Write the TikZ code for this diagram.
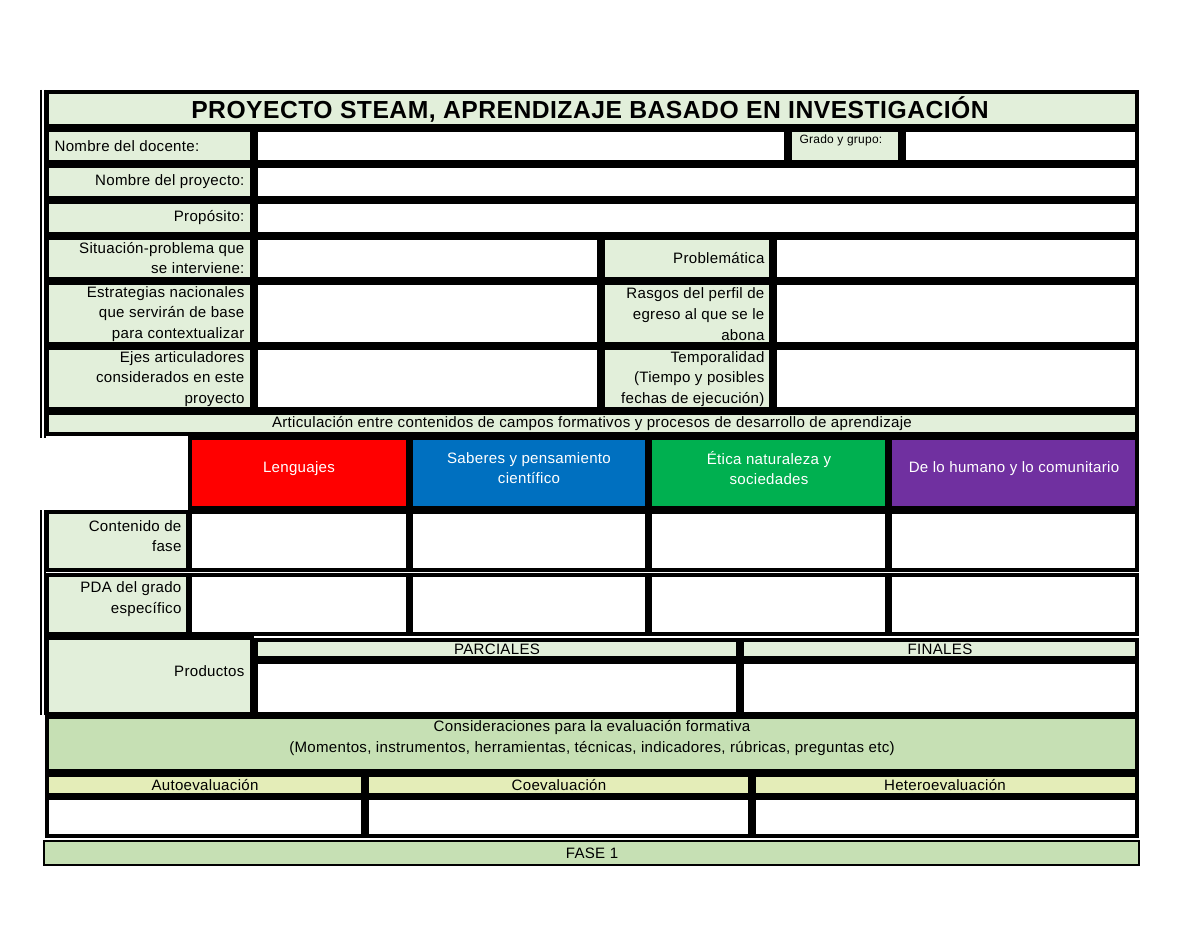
\documentclass[tikz,border=0pt]{standalone}
\usepackage{fontspec}
\setmainfont{Liberation Sans}[LetterSpace=2]
\definecolor{lg}{HTML}{E2EFDA}
\definecolor{mg}{HTML}{C6E0B4}
\definecolor{yg}{HTML}{E4EDB8}
\definecolor{cblue}{HTML}{0070C0}
\definecolor{cgreen}{HTML}{00B050}
\definecolor{cpurp}{HTML}{7030A0}
\tikzset{x=0.75pt,y=-0.75pt,
 cell/.style={draw=black,line width=2.8pt},
 lab/.style={font=\fontsize{11.3}{15.5}\selectfont,align=right,inner sep=1pt},
 ctr/.style={font=\fontsize{11.3}{15.5}\selectfont,align=center,inner sep=1pt},
 wt/.style={font=\fontsize{11.3}{15.5}\selectfont,align=center,text=white}}
\begin{document}
\begin{tikzpicture}
\useasboundingbox (0,0) rectangle (1200,927);
% left double lines
\draw[line width=1pt] (41,90) -- (41,438) (45,90) -- (45,438);
\draw[line width=1pt] (41,510) -- (41,715) (45,510) -- (45,715);
% title
\draw[cell,fill=lg] (47,92) rectangle (1137,126);
\node (title) at (590,109) {\fontsize{18.5}{20}\selectfont\bfseries PROYECTO STEAM, APRENDIZAJE BASADO EN INVESTIGACIÓN};
% row 2
\draw[cell,fill=lg] (47,130) rectangle (252,162);
\node[lab,anchor=west] (nd) at (53,146) {Nombre del docente:};
\draw[cell,fill=white] (256,130) rectangle (786,162);
\draw[cell,fill=lg] (790,130) rectangle (900,162);
\node[anchor=north west,font=\fontsize{9}{10}\selectfont,inner sep=1pt] (gg) at (798,133) {Grado y grupo:};
\draw[cell,fill=white] (904,130) rectangle (1137,162);
% row 3,4
\draw[cell,fill=lg] (47,166) rectangle (252,198);
\node[lab,anchor=east] (np) at (246,182) {Nombre del proyecto:};
\draw[cell,fill=white] (256,166) rectangle (1137,198);
\draw[cell,fill=lg] (47,202) rectangle (252,234);
\node[lab,anchor=east] (pr) at (246,218) {Propósito:};
\draw[cell,fill=white] (256,202) rectangle (1137,234);
% row 5
\draw[cell,fill=lg] (47,238) rectangle (252,279);
\node[lab,anchor=east] (sp) at (246,258) {Situación-problema que\\se interviene:};
\draw[cell,fill=white] (256,238) rectangle (599,279);
\draw[cell,fill=lg] (603,238) rectangle (771,279);
\node[lab,anchor=east] (pb) at (766,258) {Problemática};
\draw[cell,fill=white] (775,238) rectangle (1137,279);
% row 6
\draw[cell,fill=lg] (47,283) rectangle (252,344);
\node[lab,anchor=east] (en) at (246,314) {Estrategias nacionales\\que servirán de base\\para contextualizar};
\draw[cell,fill=white] (256,283) rectangle (599,344);
\draw[cell,fill=lg] (603,283) rectangle (771,344);
\node[lab,anchor=east] (rp) at (766,314) {Rasgos del perfil de\\egreso al que se le\\abona};
\draw[cell,fill=white] (775,283) rectangle (1137,344);
% row 7
\draw[cell,fill=lg] (47,348) rectangle (252,409);
\node[lab,anchor=east] (ea) at (246,379) {Ejes articuladores\\considerados en este\\proyecto};
\draw[cell,fill=white] (256,348) rectangle (599,409);
\draw[cell,fill=lg] (603,348) rectangle (771,409);
\node[lab,anchor=east] (tp) at (766,379) {Temporalidad\\(Tiempo y posibles\\fechas de ejecución)};
\draw[cell,fill=white] (775,348) rectangle (1137,409);
% row 8
\draw[cell,fill=lg] (47,413) rectangle (1137,434);
\node[ctr] (art) at (592,424) {Articulación entre contenidos de campos formativos y procesos de desarrollo de aprendizaje};
% colored
\draw[cell,fill=red] (190,438) rectangle (408,508);
\node[wt] (c1) at (299,469) {Lenguajes};
\draw[cell,fill=cblue] (411,438) rectangle (647,508);
\node[wt] (c2) at (529,468) {Saberes y pensamiento\\científico};
\draw[cell,fill=cgreen] (650,438) rectangle (887,508);
\node[wt] (c3) at (769,468) {Ética naturaleza y\\sociedades};
\draw[cell,fill=cpurp] (890,438) rectangle (1137,508);
\node[wt] (c4) at (1014,469) {De lo humano y lo comunitario};
% row 10, 11
\draw[cell,fill=lg] (47,512) rectangle (188,570);
\node[lab,anchor=east] (cf) at (183,536) {Contenido de\\fase};
\draw[cell,fill=lg] (47,575) rectangle (188,634);
\node[lab,anchor=east] (pda) at (183,599) {PDA del grado\\específico};
\foreach \ya/\yb in {512/570,575/634}{
 \draw[cell,fill=white] (190,\ya) rectangle (408,\yb);
 \draw[cell,fill=white] (411,\ya) rectangle (647,\yb);
 \draw[cell,fill=white] (650,\ya) rectangle (887,\yb);
 \draw[cell,fill=white] (890,\ya) rectangle (1137,\yb);}
% productos
\draw[cell,fill=lg] (47,638) rectangle (252,714);
\node[lab,anchor=east] (prod) at (246,671) {Productos};
\draw[cell,fill=lg] (256,640) rectangle (738,658);
\node[ctr] (parc) at (497,649) {PARCIALES};
\draw[cell,fill=lg] (742,640) rectangle (1137,658);
\node[ctr] (fin) at (940,649) {FINALES};
\draw[cell,fill=white] (256,662) rectangle (738,714);
\draw[cell,fill=white] (742,662) rectangle (1137,714);
% consideraciones
\draw[cell,fill=mg] (47,717) rectangle (1137,771);
\node[ctr] (cons) at (592,738) {Consideraciones para la evaluación formativa\\(Momentos, instrumentos, herramientas, técnicas, indicadores, rúbricas, preguntas etc)};
% eval
\draw[cell,fill=yg] (47,775) rectangle (363,795);
\node[ctr] (ae) at (205,785) {Autoevaluación};
\draw[cell,fill=yg] (367,775) rectangle (750,795);
\node[ctr] (ce) at (559,785) {Coevaluación};
\draw[cell,fill=yg] (754,775) rectangle (1137,795);
\node[ctr] (he) at (945,785) {Heteroevaluación};
\draw[cell,fill=white] (47,798) rectangle (363,836);
\draw[cell,fill=white] (367,798) rectangle (750,836);
\draw[cell,fill=white] (754,798) rectangle (1137,836);
% fase
\draw[line width=1pt,fill=mg] (44,841) rectangle (1139,865);
\node[ctr] (fase) at (592,853) {FASE 1};
\end{tikzpicture}
\end{document}
